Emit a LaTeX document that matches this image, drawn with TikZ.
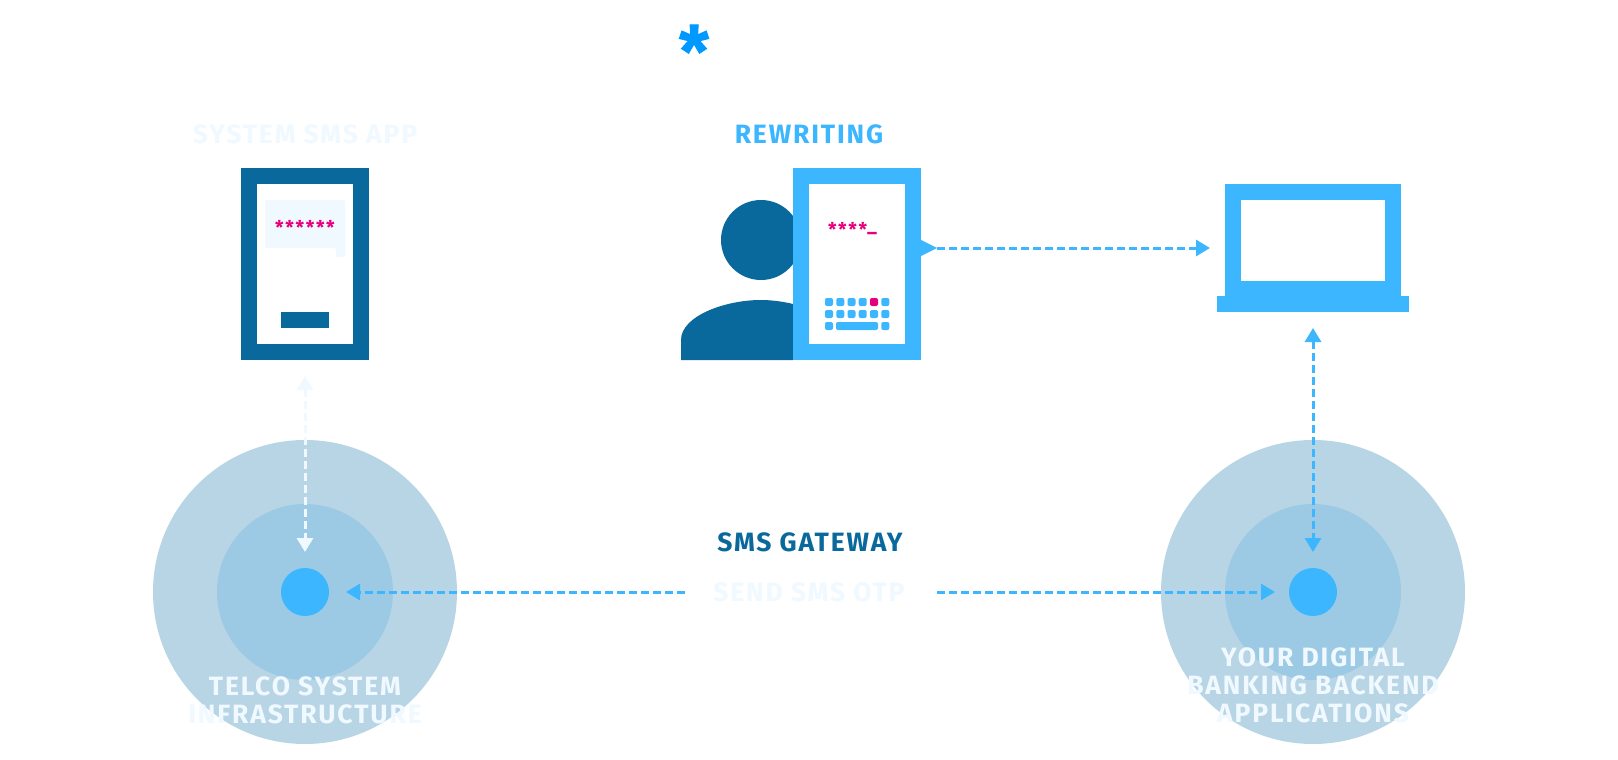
\documentclass[tikz,border=0pt]{standalone}
\usepackage{fontspec}
\setmainfont{Fira Sans}
\newfontfamily\labelfont[LetterSpace=7]{Fira Sans}
\newfontfamily\pinfont[LetterSpace=8]{Fira Sans}
\newfontfamily\markfont[BoldFeatures={FakeBold=1.5}]{Liberation Sans}
\usetikzlibrary{arrows.meta,calc}
\definecolor{darkblue}{HTML}{0A699C}
\definecolor{skyblue}{HTML}{3BB6FF}
\definecolor{pale}{HTML}{F0F9FF}
\definecolor{ringout}{HTML}{B8D5E6}
\definecolor{ringmid}{HTML}{9CCAE4}
\definecolor{otp}{HTML}{E6007E}
\definecolor{starblue}{HTML}{0099FF}
\tikzset{
  x=1pt,y=-1pt,
  lbl/.style={font=\labelfont\bfseries\fontsize{26.5}{28}\selectfont,align=center,inner sep=0pt,outer sep=0pt},
  frame/.style={draw=#1,line width=16pt,fill=white,minimum width=112pt,minimum height=176pt,inner sep=0pt,outer sep=8pt},
  ringa/.style={circle,fill=ringout,minimum size=304pt,inner sep=0pt,outer sep=0pt},
  ringb/.style={circle,fill=ringmid,minimum size=176pt,inner sep=0pt,outer sep=0pt},
  core/.style={circle,fill=skyblue,minimum size=48pt,inner sep=0pt,outer sep=0pt},
  keybtn/.style={fill=#1,rounded corners=2pt,minimum width=8pt,minimum height=8pt,inner sep=0pt,outer sep=0pt},
  flow/.style={draw=#1,line width=3pt,dash pattern=on 8pt off 4pt,{Triangle[width=16pt,length=14pt,fill=#1]}-{Triangle[width=16pt,length=14pt,fill=#1]}},
  flowone/.style={draw=#1,line width=3pt,dash pattern=on 8pt off 4pt,-{Triangle[width=16pt,length=14pt,fill=#1]}},
  pin/.style={text=otp,font=\pinfont\bfseries\fontsize{19}{19}\selectfont,inner sep=0pt,outer sep=0pt},
}
\begin{document}
\begin{tikzpicture}
\useasboundingbox[fill=white] (0,0) rectangle (1618,760);
\node[text=starblue,font=\markfont\bfseries\fontsize{76}{76}\selectfont,inner sep=0pt] (mark) at (694,51) {*};
\node[ringa] (outerL) at (305,592) {};
\node[ringb] (midL) at (305,592) {};
\node[core] (dotL) at (305,592) {};
\node[ringa] (outerR) at (1313,592) {};
\node[ringb] (midR) at (1313,592) {};
\node[core] (dotR) at (1313,592) {};
\node[lbl,text=pale] (smsapp) at (305,134) {SYSTEM SMS APP};
\node[frame=darkblue] (phoneA) at (305,264) {};
\fill[pale,rounded corners=1.5pt] (265,200) -- (345,200) -- (345,257) -- (336,257) -- (336,248) -- (265,248) -- cycle;
\node[pin,anchor=base] (otpA) at (305,234) {******};
\node[fill=darkblue,minimum width=48pt,minimum height=16pt,inner sep=0pt] (btnA) at (305,320) {};
\node[lbl,text=skyblue] (rewriting) at (809,134) {REWRITING};
\node[circle,fill=darkblue,minimum size=80pt,inner sep=0pt] (head) at (761,240) {};
\fill[darkblue] (681,360) -- (681,340) .. controls (681,316) and (725,300) .. (761,300) .. controls (773,300) and (785,302) .. (793,304) -- (793,360) -- cycle;
\node[frame=skyblue] (phoneB) at (857,264) {};
\coordinate (tail) at (937,248);
\fill[skyblue] (921,240) -- (tail) -- (921,256) -- cycle;
\node[pin,anchor=base west] (otpB) at (828,236) {****\raisebox{5pt}{\_}};
\foreach \kx/\ky/\kc in {825/302/skyblue,836.3/302/skyblue,847.5/302/skyblue,858.7/302/skyblue,870/302/otp,881.3/302/skyblue,
  825/314/skyblue,836.3/314/skyblue,847.5/314/skyblue,858.7/314/skyblue,870/314/skyblue,881.3/314/skyblue,
  825/326/skyblue,881.3/326/skyblue}
  \node[keybtn=\kc,anchor=west] at (\kx,\ky) {};
\node[keybtn=skyblue,minimum width=42pt] (space) at (857,326) {};
\node[draw=skyblue,line width=16pt,fill=white,minimum width=160pt,minimum height=97pt,inner sep=0pt,outer sep=8pt] (laptop) at (1313,240.5) {};
\node[fill=skyblue,minimum width=192pt,minimum height=16pt,inner sep=0pt,outer sep=0pt] (base) at (1313,304) {};
\fill[skyblue] (1225,281) rectangle (1401,296);
\node[lbl,text=darkblue] (gateway) at (810,542) {SMS GATEWAY};
\node[lbl,text=pale,minimum width=192pt] (sendsms) at (809,592) {SEND SMS OTP};
\draw[flowone=skyblue,shorten >=15pt] (tail) -- (tail -| laptop.west);
\draw[flow=skyblue,shorten <=16pt,shorten >=16pt] (base.south) -- (dotR.north);
\draw[flow=pale,shorten <=16pt,shorten >=16pt] (phoneA.south) -- (dotL.north);
\draw[flowone=skyblue,shorten <=28pt,shorten >=17pt] (sendsms.west) -- (dotL.east);
\draw[flowone=skyblue,shorten <=32pt,shorten >=14pt] (sendsms.east) -- (dotR.west);
\node[lbl,text=pale] (telco) at (305,700) {TELCO SYSTEM\\[0pt]INFRASTRUCTURE};
\node[lbl,text=pale] (backend) at (1313,685) {YOUR DIGITAL\\[0pt]BANKING BACKEND\\[0pt]APPLICATIONS};
\end{tikzpicture}
\end{document}
